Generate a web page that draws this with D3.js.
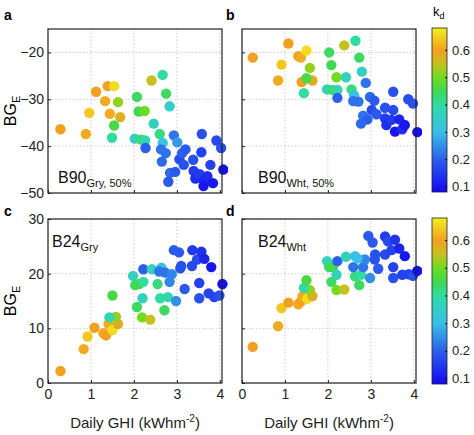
<!DOCTYPE html>
<html><head><meta charset="utf-8">
<script src="https://cdn.jsdelivr.net/npm/d3@7"></script>
<style>body{margin:0;background:#fff}svg text{font-family:"Liberation Sans",Arial,sans-serif}</style>
</head><body><svg id="c" width="474" height="435" font-family="Liberation Sans, Arial, sans-serif"></svg>
<script>
// [GHI, BG_E, kd]
const panelA = [[0.29,-36.4,.60],[0.88,-37.4,.61],[0.96,-32.9,.64],[1.12,-28.4,.60],[1.33,-30.4,.61],[1.39,-27.2,.60],[1.54,-27.2,.66],[1.44,-33.1,.61],[1.63,-30.6,.52],[1.68,-33.8,.58],[1.54,-35.6,.46],[1.49,-38.2,.40],
[2.07,-29.5,.44],[2.11,-32.6,.45],[2.25,-32.5,.50],[2.02,-38.4,.36],[2.17,-38.6,.43],[2.26,-38.8,.38],[2.27,-40.4,.20],[2.41,-26.0,.55],[2.67,-24.8,.40],[2.75,-28.8,.44],[2.83,-31.5,.35],[2.46,-35.2,.36],[2.6,-37.4,.42],[2.67,-39.3,.31],[2.63,-40.7,.22],[2.74,-41.5,.22],[2.65,-43.3,.21],[2.93,-37.7,.22],[3.01,-39.2,.26],
[2.84,-45.7,.21],[2.8,-47.6,.19],[2.96,-45.5,.19],[3.06,-42.8,.17],[3.12,-41.5,.20],[3.2,-40.7,.19],[3.16,-44.0,.18],[3.38,-42.9,.18],[3.39,-45.3,.15],[3.43,-46.9,.13],[3.53,-46.0,.15],[3.63,-47.4,.12],[3.62,-48.5,.10],[3.71,-46.4,.13],[3.84,-47.9,.10],[3.58,-37.4,.18],[3.57,-41.3,.16],[3.78,-44.0,.16],[3.92,-38.8,.17],[4.03,-40.4,.18],[4.08,-45.0,.09]];
const panelB = [[0.25,-21.1,.60],[1.08,-18.1,.60],[1.31,-20.8,.60],[1.37,-21.1,.61],[1.5,-19.6,.66],[0.92,-22.6,.64],[0.84,-26.0,.61],[1.39,-26.3,.60],[1.64,-26.0,.58],[1.58,-23.3,.52],[1.5,-25.5,.46],[1.44,-28.7,.40],
[2.03,-20.0,.44],[2.08,-22.7,.45],[2.2,-25.3,.50],[1.98,-27.9,.36],[2.1,-28.0,.43],[2.22,-28.0,.38],[2.22,-29.7,.20],[2.38,-18.5,.55],[2.64,-17.5,.40],[2.73,-21.1,.44],[2.79,-24.1,.35],[2.42,-25.3,.36],[2.55,-27.9,.42],[2.61,-29.2,.31],[2.59,-30.4,.22],[2.71,-30.5,.22],[2.88,-26.5,.22],[2.98,-29.5,.21],
[3.08,-30.3,.19],[3.02,-32.3,.17],[3.13,-33.2,.19],[2.82,-33.5,.22],[2.92,-34.3,.20],[2.77,-35.2,.21],[3.33,-31.8,.18],[3.52,-28.4,.18],[3.52,-32.3,.17],[3.33,-34.1,.15],[3.36,-35.5,.13],[3.48,-34.4,.15],[3.66,-34.3,.12],[3.56,-36.9,.10],[3.73,-36.4,.13],[3.79,-35.5,.10],[3.87,-30.0,.17],[3.98,-30.9,.18],[4.08,-37.0,.09]];
const panelC = [[0.29,2.2,.60],[0.83,6.2,.61],[0.92,8.5,.64],[1.08,10.1,.60],[1.29,9.1,.61],[1.35,8.7,.60],[1.41,10.8,.61],[1.5,9.7,.66],[1.63,10.8,.58],[1.58,12.1,.52],[1.43,12.0,.38],[1.5,16.0,.46],
[1.98,19.6,.36],[2.03,17.9,.44],[2.12,18.1,.45],[2.22,18.5,.40],[2.22,20.8,.20],[2.42,20.8,.36],[2.07,13.9,.44],[2.19,12.0,.50],[2.38,11.6,.55],[2.2,15.5,.36],[2.55,18.1,.42],[2.61,15.5,.40],[2.79,15.7,.38],[2.71,13.3,.44],[2.98,15.0,.25],[2.64,21.1,.31],[2.59,20.4,.22],[2.73,20.2,.22],[2.88,19.9,.24],[2.83,18.5,.24],
[2.93,24.3,.19],[3.05,23.9,.19],[3.1,21.4,.18],[3.08,21.0,.18],[3.18,17.2,.19],[3.35,21.4,.17],[3.36,24.3,.15],[3.47,22.6,.17],[3.57,24.0,.14],[3.64,22.7,.12],[3.8,21.2,.10],[3.52,18.3,.16],[3.52,15.5,.18],[3.74,16.4,.16],[3.87,15.7,.16],[3.99,16.0,.18],[4.06,18.1,.09]];
const panelD = [[0.25,6.6,.60],[0.84,10.4,.61],[0.92,13.7,.64],[1.08,14.7,.60],[1.31,14.4,.61],[1.37,14.9,.60],[1.41,15.9,.61],[1.52,15.4,.66],[1.64,15.9,.58],[1.58,17.0,.52],[1.44,17.4,.38],[1.5,18.8,.46],
[1.98,22.3,.36],[2.03,21.2,.44],[2.12,21.2,.45],[2.2,19.8,.36],[2.22,22.3,.20],[2.42,23.1,.36],[2.08,18.5,.44],[2.2,17.0,.50],[2.38,17.1,.55],[2.63,19.5,.42],[2.77,19.8,.40],[2.73,17.9,.44],[2.98,19.2,.25],[2.63,23.2,.31],[2.59,21.2,.22],[2.82,21.2,.22],[2.86,22.6,.24],[2.69,22.8,.30],
[2.94,26.9,.19],[3.04,25.7,.19],[3.09,22.6,.18],[3.1,23.5,.18],[3.17,20.9,.19],[3.33,23.5,.17],[3.33,26.8,.15],[3.4,25.9,.17],[3.56,26.2,.14],[3.48,24.3,.16],[3.66,24.6,.12],[3.79,23.2,.10],[3.52,21.2,.16],[3.52,19.2,.18],[3.73,19.8,.16],[3.88,19.9,.16],[3.98,19.6,.18],[4.08,20.5,.09]];
const xTicks = [0,1,2,3,4];
const yTicksTop = [-50,-40,-30,-20];
const yTicksBot = [0,10,20,30];
const cbTicks = [0.1,0.2,0.3,0.4,0.5,0.6];
const kdStops = [0.08,0.2,0.3,0.4,0.45,0.5,0.55,0.6,0.68];
const kdColors = ["#1408f0","#2c60ea","#38c0e8","#30dca0","#40d850","#70dc20","#c8c020","#f2a020","#f2f020"];

const color = d3.scaleLinear().domain(kdStops).range(kdColors).clamp(true);
const svg = d3.select("#c");
const FF = "Liberation Sans, Arial, sans-serif";
const W=174, H=164;
const panels=[
 {d:panelA,x:48,y:29,dom:[-50,-15],t:yTicksTop,lab:"a",lx:4,ly:20,name:"B90",sub:"Gry, 50%",nx:58,ny:183,ylab:true,xlab:false},
 {d:panelB,x:242,y:29,dom:[-50,-15],t:yTicksTop,lab:"b",lx:226,ly:20,name:"B90",sub:"Wht, 50%",nx:258,ny:183,ylab:false,xlab:false},
 {d:panelC,x:48,y:219,dom:[0,30],t:yTicksBot,lab:"c",lx:4,ly:216,name:"B24",sub:"Gry",nx:52,ny:247,ylab:true,xlab:true},
 {d:panelD,x:242,y:219,dom:[0,30],t:yTicksBot,lab:"d",lx:226,ly:216,name:"B24",sub:"Wht",nx:258,ny:247,ylab:false,xlab:true}];
panels.forEach(p=>{
  const g=svg.append("g").attr("transform",`translate(${p.x},${p.y})`);
  const xs=d3.scaleLinear().domain([0,4.05]).range([0,W]);
  const ys=d3.scaleLinear().domain(p.dom).range([H,0]);
  const cp="cp"+p.lab;
  g.append("clipPath").attr("id",cp).append("rect").attr("x",-6).attr("y",-6).attr("width",W+12).attr("height",H+12);
  xTicks.forEach(v=>g.append("line").attr("x1",xs(v)).attr("x2",xs(v)).attr("y1",0).attr("y2",H).attr("stroke","#ccc").attr("stroke-dasharray","1.5,2"));
  p.t.forEach(v=>g.append("line").attr("y1",ys(v)).attr("y2",ys(v)).attr("x1",0).attr("x2",W).attr("stroke","#ccc").attr("stroke-dasharray","1.5,2"));
  g.append("g").attr("clip-path",`url(#${cp})`).selectAll("circle").data(p.d).enter().append("circle")
   .attr("cx",d=>xs(d[0])).attr("cy",d=>ys(d[1])).attr("r",5.2).attr("fill",d=>color(d[2]));
  g.append("rect").attr("width",W).attr("height",H).attr("fill","none").attr("stroke","#222").attr("stroke-width",1.2);
  const xa=g.append("g").attr("transform",`translate(0,${H})`).call(d3.axisBottom(xs).tickValues(xTicks).tickSizeInner(-3).tickSizeOuter(0).tickPadding(6).tickFormat(p.xlab?d3.format("d"):""));
  const ya=g.append("g").call(d3.axisLeft(ys).tickValues(p.t).tickSizeInner(-3).tickSizeOuter(0).tickPadding(4).tickFormat(p.ylab?d3.format("d"):""));
  [xa,ya].forEach(a=>{a.attr("font-family",FF);a.select(".domain").remove();a.selectAll("text").attr("font-size",14).attr("fill","#222");a.selectAll("line").attr("stroke","#222");});
  svg.append("text").attr("x",p.lx).attr("y",p.ly).attr("font-size",14).attr("font-weight","bold").text(p.lab);
  const t=svg.append("text").attr("x",p.nx).attr("y",p.ny).attr("font-size",16).attr("fill","#111");
  t.append("tspan").text(p.name);
  t.append("tspan").attr("font-size",11).attr("dy",4).text(p.sub);
  if(p.ylab){const yl=svg.append("text").attr("transform",`translate(16,${p.y+H/2}) rotate(-90)`).attr("text-anchor","middle").attr("font-size",16);
    yl.append("tspan").text("BG");yl.append("tspan").attr("font-size",11).attr("dy",4).text("E");}
  if(p.xlab){const xl=svg.append("text").attr("x",p.x+W/2).attr("y",428).attr("text-anchor","middle").attr("font-size",15).attr("fill","#222");
    xl.append("tspan").text("Daily GHI (kWhm");xl.append("tspan").attr("font-size",10).attr("dy",-6).text("-2");xl.append("tspan").attr("dy",6).text(")");}
});
// colorbars
const defs=svg.append("defs");
const gr=defs.append("linearGradient").attr("id","cbg").attr("x1",0).attr("y1",1).attr("x2",0).attr("y2",0);
kdStops.forEach((s,i)=>gr.append("stop").attr("offset",(s-0.08)/0.6).attr("stop-color",kdColors[i]));
[[28,192],[218,384]].forEach(([t,b])=>{
  const cs=d3.scaleLinear().domain([0.08,0.68]).range([b,t]);
  svg.append("rect").attr("x",432).attr("y",t).attr("width",15).attr("height",b-t).attr("fill","url(#cbg)").attr("stroke","#222").attr("stroke-width",0.8);
  const a=svg.append("g").attr("transform","translate(447,0)").attr("font-family",FF).call(d3.axisRight(cs).tickValues(cbTicks).tickSizeInner(-2).tickSizeOuter(0).tickPadding(5).tickFormat(d3.format(".1f")));
  a.attr("font-family",FF);a.select(".domain").remove();a.selectAll("text").attr("font-size",13).attr("fill","#222");
});
const kd=svg.append("text").attr("x",433).attr("y",16).attr("font-size",13);
kd.append("tspan").text("k");kd.append("tspan").attr("font-size",9).attr("dy",3).text("d");
</script></body></html>
